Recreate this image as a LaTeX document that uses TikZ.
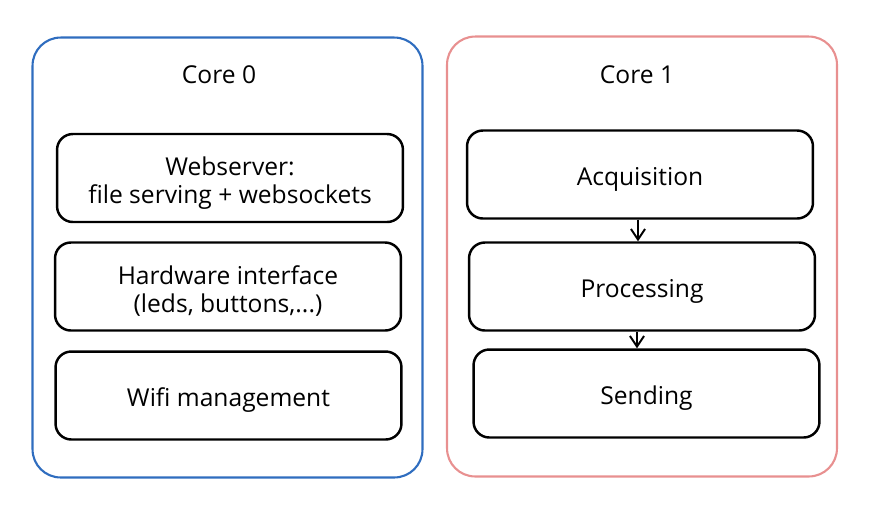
\documentclass[tikz,border=0pt]{standalone}
\usepackage{fontspec}
\setmainfont{Open Sans}
\usetikzlibrary{arrows.meta,positioning,calc}
\definecolor{coreblue}{HTML}{2F6DBF}
\definecolor{corered}{HTML}{E89090}
\newcommand{\toprow}{\rule{0pt}{16pt}}

\begin{document}
\begin{tikzpicture}[
  >={Straight Barb[length=6pt,width=8pt]},
  x=0.02cm,y=-0.02cm,
  core/.style={draw=#1, rounded corners=16pt, line width=1.2pt,
    minimum width=7.8cm, minimum height=8.8cm, inner sep=0pt},
  title/.style={font=\fontsize{14}{17}\selectfont, inner sep=0pt},
  task/.style={draw=black, rounded corners=9pt, line width=1.4pt, fill=white,
    align=center, minimum width=6.92cm, minimum height=1.76cm, inner sep=2pt,
    font=\fontsize{14}{16}\selectfont},
  lower/.style={execute at begin node={\rule{0pt}{15.5pt}}},
  arrow/.style={->, line width=1.1pt}
]
\useasboundingbox (0,0) rectangle (876,512);

% Containers
\node[core=coreblue] (core0) at (227.5,257.5) {};
\node[core=corered] (core1) at (642,256.5) {};
\node[title] (t0) at (219,75) {Core 0};
\node[title] (t1) at (637,75) {Core 1};

% Core 0 tasks
\node[task] (web) at (230,178) {\toprow Webserver:\\file serving + websockets};
\node[task] (hw) at (228,286.5) {\toprow Hardware interface\\(leds, buttons,...)};
\node[task, lower] (wifi) at (228.5,395.5) {Wifi management};

% Core 1 tasks
\node[task, lower] (acq) at (640,174.5) {Acquisition};
\node[task, lower] (proc) at (642,286.5) {Processing};
\node[task, lower] (send) at (646.5,393.5) {Sending};

% Pipeline arrows
\draw[arrow] ($(acq.south)+(-2,0)$) -- ($(acq.south |- proc.north)+(-2,0)$);
\draw[arrow] ($(proc.south)+(-5,0)$) -- ($(proc.south |- send.north)+(-5,0)$);

\end{tikzpicture}
\end{document}
